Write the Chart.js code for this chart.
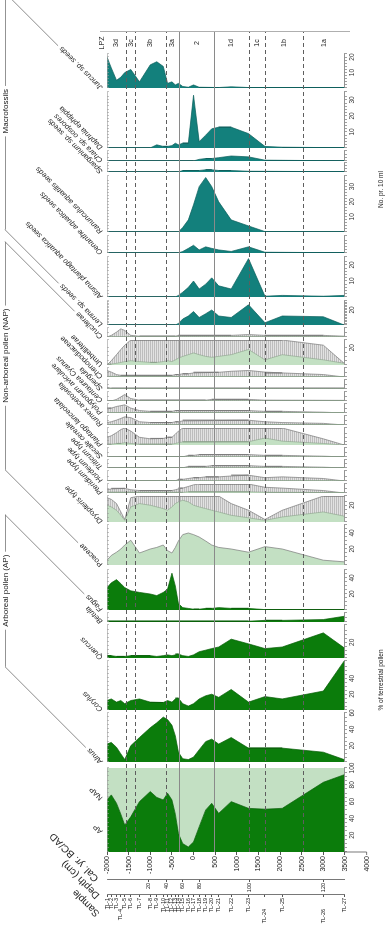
<!DOCTYPE html>
<html>
<head>
<meta charset="utf-8">
<title>Pollen and macrofossil diagram</title>
<script src="https://cdn.jsdelivr.net/npm/chart.js@4.4.1/dist/chart.umd.min.js"></script>
<style>
  html, body { margin: 0; padding: 0; background: #fff; overflow: hidden; }
  body { width: 387px; height: 928px; position: relative; }
  /* the diagram is drawn lying down, then turned a quarter turn */
  #turn { position: absolute; left: 0; top: 0; width: 928px; height: 387px;
          transform-origin: 0 0; transform: translateY(928px) rotate(-90deg); }
</style>
</head>
<body>
<div id="turn"><canvas id="diagram" width="928" height="387"></canvas></div>
<script>
// Sample ages (cal. yr BC/AD), one entry per sample
const sampleAges = [-2000, -1900, -1780, -1680, -1590, -1450, -1250, -1000, -850, -700, -600, -500, -420, -350,
                    -250, -120, 0, 130, 280, 420, 580, 870, 1270, 1650, 2050, 3000, 3480];
const sampleNames = ['TL-1', 'TL-2', 'TL-3', 'TL-4', 'TL-5', 'TL-6', 'TL-7', 'TL-8', 'TL-9', 'TL-10', 'TL-11',
                     'TL-12', 'TL-13', 'TL-14', 'TL-15', 'TL-16', 'TL-17', 'TL-18', 'TL-19', 'TL-20', 'TL-21',
                     'TL-22', 'TL-23', 'TL-24', 'TL-25', 'TL-26', 'TL-27'];
const depthLabels = ['20', '40', '60', '80', '100', '120'];
const depthAges = [-1050, -620, -250, 130, 1300, 3000];
const ageTicks = [-2000, -1500, -1000, -500, 0, 500, 1000, 1500, 2000, 2500, 3000, 3500, 4000];

// Local pollen assemblage zones
const zoneBounds = [-1560, -1350, -640, -330, 470, 1280, 1650, 2530];
const majorBounds = [-330, 470];
const zoneNames = ['3d', '3c', '3b', '3a', '2', '1d', '1c', '1b', '1a'];

// Macrofossils (no. per 10 ml)
const juncus = [20, 13, 5, 7, 10, 12, 4, 15, 17, 14, 3, 4, 2, 3, 1, 0.5, 2, 0.5, 0.2, 0.2, 0.5, 0.8, 0.3, 0.3, 0.5, 0.2, 0];
const daphnia = [0, 0, 0, 0, 0, 0, 0, 0.5, 2, 1, 1, 1.5, 3, 2, 3, 3, 33, 4, 8, 12, 13, 13, 9, 1, 0.5, 0.3, 0];
const chara = [0, 0, 0, 0, 0, 0, 0, 0, 0, 0, 0, 0, 0, 0, 0, 0, 0.5, 1, 1.5, 1.5, 2, 3, 2.5, 0.5, 0, 0.3, 0];
const sparganium = [0, 0, 0, 0, 0, 0, 0, 0, 0, 0, 0, 0, 0, 0.5, 1, 1, 1, 1, 1.5, 1.5, 1, 1, 0.5, 0.3, 0.3, 0.2, 0];
const ranunculus = [0, 0, 0, 0, 0, 0, 0, 0, 0, 0, 0, 0, 0, 0.5, 3, 8, 18, 30, 36, 30, 20, 8, 4, 0.3, 0.2, 0, 0];
const oenanthe = [0, 0, 0, 0, 0, 0, 0, 0, 0, 0, 0, 0, 0, 0.5, 1, 3, 5, 2, 4, 3, 2, 1, 4, 0.5, 0.3, 0.2, 0];
const alisma = [0, 0, 0, 0, 0, 0, 0, 0, 0, 0, 0, 0, 0, 1, 3, 6, 10, 5, 8, 12, 7, 5, 24, 0.5, 1, 0.5, 1];
const lemna = [0, 0, 0, 0, 0, 0, 0, 0, 0, 0, 0, 0, 0, 2, 8, 12, 18, 10, 15, 20, 12, 10, 27, 3, 12, 11, 0];

// Pollen (% of terrestrial pollen); "Exag" series are the grey exaggerated curves
const ap = [62, 68, 58, 45, 32, 42, 60, 72, 65, 62, 70, 62, 45, 22, 10, 6, 12, 30, 50, 58, 46, 60, 52, 51, 52, 83, 92];
const alnus = [22, 24, 18, 10, 3, 20, 30, 42, 48, 55, 52, 45, 32, 12, 4, 3, 6, 15, 25, 28, 22, 30, 17, 17, 17, 12, 3];
const corylus = [12, 14, 10, 12, 8, 12, 14, 10, 9, 10, 12, 10, 14, 15, 8, 5, 8, 14, 18, 20, 16, 26, 10, 17, 14, 24, 62];
const quercus = [3, 3, 2, 2, 2, 3, 3, 3, 2, 3, 4, 3, 4, 5, 3, 2, 4, 8, 10, 12, 14, 24, 18, 12, 14, 32, 13];
const betula = [1, 1, 1, 1, 1, 1, 1, 1, 1, 1, 1, 1, 1, 1, 1, 1, 1, 1, 1, 1, 1, 1, 1, 2, 2, 3, 7];
const fagus = [28, 34, 38, 33, 28, 24, 22, 20, 18, 22, 26, 46, 30, 8, 3, 2, 1, 1, 2, 2, 3, 2, 2, 0.5, 0.3, 0.2, 0.2];
const poaceae = [6, 12, 16, 20, 25, 31, 15, 20, 22, 25, 18, 15, 22, 30, 38, 40, 38, 35, 30, 25, 22, 20, 16, 23, 20, 6, 4];
const dryopteris = [20, 18, 14, 8, 2, 18, 22, 20, 18, 16, 14, 18, 22, 24, 26, 24, 20, 18, 16, 14, 12, 8, 5, 2, 6, 12, 7];
const dryopterisExag = [29, 27, 22, 12, 3, 29, 31, 31, 31, 31, 31, 31, 31, 31, 31, 31, 31, 31, 31, 31, 31, 22, 14, 3, 14, 31, 31];
const pteridium = [1, 1, 1, 1, 1, 1, 0.5, 0.5, 0.5, 0.5, 0.5, 0.5, 0.5, 1, 1, 1.5, 1.5, 1.5, 1.5, 1.5, 1.5, 1.5, 1.5, 1, 1, 0.5, 0];
const pteridiumExag = [4, 5, 6, 6, 5, 4, 3, 3, 3, 3, 3, 3, 4, 5, 6, 8, 10, 11, 11, 11, 11, 11, 11, 7, 6, 3, 0];
const hordeum = [0, 0, 0, 0, 0, 0, 0, 0, 0, 0, 0, 0, 0, 0.2, 0.2, 0.3, 0.4, 0.4, 0.5, 0.5, 0.5, 0.6, 0.8, 0.4, 0.5, 0.3, 0];
const hordeumExag = [0, 0, 0, 0, 0, 0, 0, 0, 0, 0, 0, 0, 1, 2, 2, 3, 4, 4, 5, 5, 5, 6, 7, 4, 5, 3, 0];
const triticum = [0, 0, 0, 0, 0, 0, 0, 0, 0, 0, 0, 0, 0, 0.1, 0.1, 0.2, 0.2, 0.2, 0.2, 0.3, 0.3, 0.3, 0.3, 0.2, 0.2, 0.1, 0];
const triticumExag = [0, 0, 0, 0, 0, 0, 0, 0, 0, 0, 0, 0, 0, 1, 1, 2, 2, 2, 2, 3, 3, 3, 3, 2, 2, 1, 0];
const secale = [0, 0, 0, 0, 0, 0, 0, 0, 0, 0, 0, 0, 0, 0.1, 0.1, 0.2, 0.2, 0.3, 0.3, 0.3, 0.3, 0.3, 0.3, 0.2, 0.2, 0.1, 0];
const secaleExag = [0, 0, 0, 0, 0, 0, 0, 0, 0, 0, 0, 0, 0, 1, 1, 2, 2, 3, 3, 3, 3, 3, 3, 2, 2, 1, 0];
const plantago = [1, 1, 2, 2, 3, 2, 1, 1, 1, 1, 1, 1, 2, 3, 4, 5, 5, 4, 4, 4, 4, 4, 4, 9, 5, 2, 0];
const plantagoExag = [10, 12, 16, 20, 22, 18, 10, 8, 8, 9, 10, 10, 14, 18, 22, 22, 22, 22, 22, 22, 22, 22, 22, 22, 22, 8, 0];
const rumex = [0.3, 0.4, 0.6, 0.8, 1, 0.9, 0.4, 0.3, 0.3, 0.3, 0.3, 0.3, 0.4, 0.4, 0.5, 0.6, 0.6, 0.6, 0.6, 0.6, 0.6, 0.6, 0.5, 0.4, 0.3, 0.2, 0];
const rumexExag = [3, 4, 6, 8, 10, 9, 4, 3, 3, 3, 3, 3, 4, 4, 5, 6, 6, 6, 6, 6, 6, 6, 5, 4, 3, 2, 0];
const polygonum = [0.5, 0.6, 0.8, 0.9, 1, 0.6, 0.3, 0.2, 0.2, 0.2, 0.2, 0.2, 0.3, 0.3, 0.3, 0.3, 0.3, 0.3, 0.3, 0.3, 0.3, 0.3, 0.3, 0.2, 0.2, 0.1, 0];
const polygonumExag = [5, 6, 8, 9, 10, 6, 3, 2, 2, 2, 2, 2, 3, 3, 3, 3, 3, 3, 3, 3, 3, 3, 3, 2, 2, 1, 0];
const centaurea = [0, 0, 0.2, 0.5, 0.8, 0.3, 0.1, 0.1, 0.1, 0.1, 0.1, 0.1, 0.1, 0.1, 0.1, 0.1, 0.1, 0.1, 0.1, 0.2, 0.2, 0.2, 0.2, 0.1, 0.1, 0.1, 0];
const centaureaExag = [0, 0, 2, 5, 8, 3, 1, 1, 1, 1, 1, 1, 1, 1, 1, 1, 1, 1, 1, 2, 2, 2, 2, 1, 1, 1, 0];
const spergula = [0.2, 0.1, 0.1, 0.1, 0.1, 0.1, 0.1, 0.1, 0.1, 0.1, 0.1, 0.1, 0.1, 0.1, 0.1, 0.1, 0.1, 0.1, 0.1, 0.1, 0.1, 0.1, 0.1, 0.1, 0.1, 0.1, 0];
const spergulaExag = [2, 1, 1, 1, 1, 1, 1, 1, 1, 1, 1, 1, 1, 1, 1, 1, 1, 1, 1, 1, 1, 1, 1, 1, 1, 1, 0];
const chenopodiaceae = [0.8, 0.6, 0.3, 0.2, 0.2, 0.2, 0.2, 0.2, 0.2, 0.2, 0.2, 0.2, 0.3, 0.3, 0.4, 0.4, 0.5, 0.5, 0.6, 0.6, 0.6, 0.7, 0.8, 0.6, 0.5, 0.3, 0];
const chenopodiaceaeExag = [8, 6, 3, 2, 2, 2, 2, 2, 2, 2, 2, 2, 3, 3, 4, 4, 5, 5, 6, 6, 6, 7, 8, 6, 5, 3, 0];
const umbelliferae = [0, 1, 2, 3, 4, 5, 4, 3, 3, 4, 5, 4, 6, 8, 10, 12, 14, 12, 10, 9, 10, 12, 18, 6, 12, 6, 2];
const umbelliferaeExag = [0, 5, 12, 18, 23, 29, 29, 29, 29, 29, 29, 29, 29, 29, 29, 29, 29, 29, 29, 29, 29, 29, 29, 29, 29, 23, 2];
const cruciferae = [0, 0.2, 0.6, 1, 0.8, 0.2, 0.1, 0.1, 0.1, 0.1, 0.1, 0.1, 0.1, 0.2, 0.2, 0.2, 0.2, 0.2, 0.2, 0.2, 0.2, 0.2, 0.3, 0.2, 0.2, 0.2, 0.1];
const cruciferaeExag = [0, 2, 6, 10, 8, 2, 1, 1, 1, 1, 1, 1, 1, 2, 2, 2, 2, 2, 2, 2, 2, 2, 3, 2, 2, 2, 1];

// colours
const TEAL = '#13807c';
const TEAL_LINE = '#0c5f5c';
const DARK_GREEN = '#0b7c0b';
const DARK_GREEN_LINE = '#075d07';
const LIGHT_GREEN = '#c3e0c3';
const LIGHT_GREEN_LINE = '#8a9f8a';
const GREY_LINE = '#7a7a7a';

// layout of the lying-down drawing (pixels)
const AXIS_H = 20;
const LPZ_W = 22;
const BRACKET_Y = 5;
const staggered = ['TL-4', 'TL-24', 'TL-26'];

Chart.defaults.font.family = "'Liberation Sans', Arial, sans-serif";
Chart.defaults.color = '#222';

// grey striped fill for the exaggerated curves
const canvas = document.getElementById('diagram');
const tile = document.createElement('canvas');
tile.width = 4; tile.height = 2;
const tctx = tile.getContext('2d');
tctx.fillStyle = '#e2e2e2'; tctx.fillRect(0, 0, 4, 2);
tctx.fillStyle = '#bdbdbd'; tctx.fillRect(0, 0, 4, 1);
const hatch = canvas.getContext('2d').createPattern(tile, 'repeat');

// panels from left to right (w = width, gap = space before it)
const panels = [
  { id: 'apnap', w: 84, gap: 0, max: 100, step: 5, every: 20, kind: 'apnap', data: ap },
  { id: 'alnus', label: 'Alnus', w: 49, gap: 6, max: 60, step: 5, every: 20, kind: 'tree', data: alnus },
  { id: 'corylus', label: 'Corylus', w: 49, gap: 3, max: 62, step: 5, every: 20, kind: 'tree', data: corylus },
  { id: 'quercus', label: 'Quercus', w: 33, gap: 3, max: 42, step: 5, every: 20, kind: 'tree', data: quercus },
  { id: 'betula', label: 'Betula', w: 9, gap: 3, max: 11, step: 5, every: 0, kind: 'tree', data: betula },
  { id: 'fagus', label: 'Fagus', w: 40, gap: 3, max: 50, step: 5, every: 20, kind: 'tree', data: fagus },
  { id: 'poaceae', label: 'Poaceae', upright: true, w: 40, gap: 5, max: 50, step: 5, every: 20, kind: 'herb', data: poaceae },
  { id: 'dryopteris', label: 'Dryopteris type', w: 26, gap: 3, max: 31, step: 5, every: 20, kind: 'nap', data: dryopteris, exag: dryopterisExag },
  { id: 'pteridium', label: 'Pteridium type', w: 9, gap: 3, max: 11, step: 5, every: 0, kind: 'nap', data: pteridium, exag: pteridiumExag },
  { id: 'hordeum', label: 'Hordeum type', w: 10, gap: 3, max: 12, step: 5, every: 0, kind: 'nap', data: hordeum, exag: hordeumExag },
  { id: 'triticum', label: 'Triticum type', w: 8, gap: 3, max: 10, step: 5, every: 0, kind: 'nap', data: triticum, exag: triticumExag },
  { id: 'secale', label: 'Secale cereale', w: 9, gap: 3, max: 11, step: 5, every: 0, kind: 'nap', data: secale, exag: secaleExag },
  { id: 'plantago', label: 'Plantago lanceolata', w: 17, gap: 3, max: 22, step: 5, every: 20, kind: 'nap', data: plantago, exag: plantagoExag },
  { id: 'rumex', label: 'Rumex acetosella', w: 9, gap: 3, max: 11, step: 5, every: 0, kind: 'nap', data: rumex, exag: rumexExag },
  { id: 'polygonum', label: 'Polygonum aviculare', w: 9, gap: 3, max: 11, step: 5, every: 0, kind: 'nap', data: polygonum, exag: polygonumExag },
  { id: 'centaurea', label: 'Centaurea Cyanus', w: 9, gap: 3, max: 11, step: 5, every: 0, kind: 'nap', data: centaurea, exag: centaureaExag },
  { id: 'spergula', label: 'Spergula', w: 9, gap: 3, max: 11, step: 5, every: 0, kind: 'nap', data: spergula, exag: spergulaExag },
  { id: 'cheno', label: 'Chenopodiaceae', upright: true, w: 9, gap: 3, max: 11, step: 5, every: 0, kind: 'nap', data: chenopodiaceae, exag: chenopodiaceaeExag },
  { id: 'umbel', label: 'Umbelliferae', upright: true, w: 25, gap: 3, max: 29, step: 5, every: 20, kind: 'nap', data: umbelliferae, exag: umbelliferaeExag },
  { id: 'cruci', label: 'Cruciferae', upright: true, w: 9, gap: 3, max: 11, step: 5, every: 0, kind: 'nap', data: cruciferae, exag: cruciferaeExag },
  { id: 'lemna', label: 'Lemna sp. seeds', w: 24, gap: 3, max: 32, step: 2, every: 20, kind: 'macro', data: lemna },
  { id: 'alisma', label: 'Alisma plantago aquatica seeds', w: 40, gap: 4, max: 25, step: 2, every: 10, kind: 'macro', data: alisma },
  { id: 'oenanthe', label: 'Oenanthe aquatica seeds', w: 17, gap: 4, max: 11, step: 2, every: 10, kind: 'macro', data: oenanthe },
  { id: 'ranunculus', label: 'Ranunculus aquatilis seeds', w: 56, gap: 4, max: 37, step: 2, every: 10, kind: 'macro', data: ranunculus },
  { id: 'sparganium', label: 'Sparganium sp. seeds', w: 9, gap: 4, max: 6, step: 2, every: 0, kind: 'macro', data: sparganium },
  { id: 'chara', label: 'Chara sp. oospores', w: 10, gap: 2, max: 6, step: 2, every: 0, kind: 'macro', data: chara },
  { id: 'daphnia', label: 'Daphnia ephippia', w: 56, gap: 3, max: 35, step: 2, every: 10, kind: 'macro', data: daphnia },
  { id: 'juncus', label: 'Juncus sp. seeds', w: 34, gap: 4, max: 22, step: 2, every: 10, kind: 'macro', data: juncus }
];

const groups = [
  { label: 'Arboreal pollen (AP)', from: 'alnus', to: 'fagus' },
  { label: 'Non-arboreal pollen (NAP)', from: 'poaceae', to: 'cruci' },
  { label: 'Macrofossils', from: 'lemna', to: 'juncus' }
];

function toPoints(values) {
  return values.map((v, i) => ({ x: v, y: sampleAges[i] }));
}

function leftAxis(weight, width, extra) {
  return Object.assign({
    type: 'linear', position: 'left', weight, min: -2000, max: 3500, reverse: true,
    afterFit: s => { s.width = width; },
    grid: { drawOnChartArea: false, tickLength: 2, tickColor: '#555' },
    border: { color: '#555', width: 0.8 }
  }, extra);
}

// scales: the age axis and its two companions, then one value axis per panel
const scales = {
  y: leftAxis(0, 28, {
    ticks: { stepSize: 500, autoSkip: false, padding: 1, font: { size: 7 }, callback: v => String(v) },
    grid: { drawOnChartArea: false, tickLength: 3, tickColor: '#555' }
  }),
  yDepth: leftAxis(1, 15, {
    afterBuildTicks: s => { s.ticks = depthAges.map(v => ({ value: v })); },
    ticks: { autoSkip: false, padding: 1, font: { size: 5.5 }, callback: (v, i) => depthLabels[i] }
  }),
  ySample: leftAxis(2, 33, {
    afterBuildTicks: s => { s.ticks = sampleAges.map(v => ({ value: v })); },
    ticks: {
      autoSkip: false, padding: 1, font: { size: 5.5 },
      callback: (v, i) => staggered.includes(sampleNames[i]) ? sampleNames[i] + '\u2003\u2003' : sampleNames[i]
    }
  })
};

panels.forEach((p, i) => {
  if (p.gap) {
    scales['gap' + i] = {
      type: 'linear', axis: 'x', position: 'bottom', stack: 'panels', stackWeight: p.gap, min: 0, max: 1,
      grid: { display: false }, border: { display: false }, ticks: { display: false },
      afterFit: s => { s.height = AXIS_H; }
    };
  }
  scales['x_' + p.id] = {
    type: 'linear', axis: 'x', position: 'bottom', stack: 'panels', stackWeight: p.w, min: 0, max: p.max,
    afterFit: s => { s.height = AXIS_H; },
    border: { display: true, color: '#777', width: 0.8 },
    grid: {
      drawOnChartArea: true, lineWidth: 0.8, tickLength: 2, tickColor: '#888',
      color: c => (c.tick && c.tick.value === 0) ? '#5a5a5a' : 'rgba(0,0,0,0)'
    },
    ticks: {
      stepSize: p.step, autoSkip: false, minRotation: 0, maxRotation: 0, padding: 1, color: '#333',
      font: { size: 6.5 },
      callback: v => (p.every && v > 0 && v % p.every === 0) ? String(v) : ''
    }
  };
});

// datasets: earlier entries are painted on top
const datasets = [];
panels.forEach(p => {
  const base = { xAxisID: 'x_' + p.id, yAxisID: 'y', pointRadius: 0, borderWidth: 0.7, tension: 0, fill: 'origin' };
  if (p.kind === 'apnap') {
    datasets.push({ ...base, label: 'AP', data: toPoints(p.data), backgroundColor: DARK_GREEN, borderColor: DARK_GREEN_LINE });
    datasets.push({ ...base, label: 'NAP', data: toPoints(p.data), backgroundColor: LIGHT_GREEN, borderColor: 'rgba(0,0,0,0)', fill: { value: 100 } });
  } else if (p.kind === 'tree') {
    datasets.push({ ...base, label: p.label, data: toPoints(p.data), backgroundColor: DARK_GREEN, borderColor: DARK_GREEN_LINE });
  } else if (p.kind === 'herb') {
    datasets.push({ ...base, label: p.label, data: toPoints(p.data), backgroundColor: LIGHT_GREEN, borderColor: GREY_LINE });
  } else if (p.kind === 'nap') {
    datasets.push({ ...base, label: p.label, data: toPoints(p.data), backgroundColor: LIGHT_GREEN, borderColor: LIGHT_GREEN_LINE, borderWidth: 0.6 });
    datasets.push({ ...base, label: p.label + ' x10', data: toPoints(p.exag), backgroundColor: hatch, borderColor: GREY_LINE });
  } else {
    datasets.push({ ...base, label: p.label, data: toPoints(p.data), backgroundColor: TEAL, borderColor: TEAL_LINE });
  }
});

function labelFont(p) {
  return (p.upright ? '' : 'italic ') + '7.5px "Liberation Sans", Arial, sans-serif';
}

const decorations = {
  id: 'decorations',
  afterDatasetsDraw(chart) {
    const { ctx, chartArea: area, scales: sc } = chart;
    ctx.save();
    ctx.lineWidth = 1;
    zoneBounds.forEach(b => {
      const y = Math.round(sc.y.getPixelForValue(b)) + 0.5;
      const solid = majorBounds.includes(b);
      ctx.strokeStyle = solid ? '#8a8a8a' : '#5e5e5e';
      ctx.setLineDash(solid ? [] : [4, 3]);
      ctx.beginPath();
      ctx.moveTo(area.left, y);
      ctx.lineTo(area.right + LPZ_W, y);
      ctx.stroke();
    });
    ctx.restore();
  },
  afterDraw(chart) {
    const { ctx, chartArea: area, scales: sc } = chart;
    const age = sc.y;
    const c = Math.SQRT1_2;
    ctx.save();

    // thin top edge of every panel
    ctx.strokeStyle = '#9a9a9a';
    ctx.lineWidth = 0.6;
    panels.forEach(p => {
      const s = sc['x_' + p.id];
      ctx.beginPath();
      ctx.moveTo(s.left, area.top + 0.5);
      ctx.lineTo(s.right, area.top + 0.5);
      s.ticks.forEach(t => {
        const x = Math.round(s.getPixelForValue(t.value)) + 0.5;
        ctx.moveTo(x, area.top);
        ctx.lineTo(x, area.top + 2);
      });
      ctx.stroke();
    });

    // age axis runs on to 4000
    const yEnd = age.getPixelForValue(3500);
    const y4000 = age.getPixelForValue(ageTicks[ageTicks.length - 1]);
    ctx.strokeStyle = '#555';
    ctx.lineWidth = 0.8;
    ctx.beginPath();
    ctx.moveTo(age.right, yEnd);
    ctx.lineTo(age.right, y4000);
    ctx.moveTo(age.right, y4000);
    ctx.lineTo(age.right - 3, y4000);
    ctx.stroke();
    ctx.fillStyle = '#222';
    ctx.font = '7px "Liberation Sans", Arial, sans-serif';
    ctx.textAlign = 'right';
    ctx.textBaseline = 'middle';
    ctx.fillText(String(ageTicks[ageTicks.length - 1]), age.right - 4, y4000);

    // zone column
    const zx = area.right + LPZ_W;
    ctx.strokeStyle = '#9a9a9a';
    ctx.lineWidth = 0.8;
    ctx.beginPath();
    ctx.moveTo(zx + 0.5, area.top - 7);
    ctx.lineTo(zx + 0.5, area.bottom + 5);
    ctx.stroke();
    ctx.textAlign = 'center';
    ctx.textBaseline = 'bottom';
    ctx.fillText('LPZ', area.right + LPZ_W / 2, area.top - 1);
    ctx.textBaseline = 'middle';
    const edges = [-2000, ...zoneBounds, 3500];
    zoneNames.forEach((z, i) => {
      const y = (age.getPixelForValue(edges[i]) + age.getPixelForValue(edges[i + 1])) / 2;
      ctx.fillText(z, area.right + LPZ_W / 2, y);
    });

    // slanted taxon names
    ctx.textAlign = 'left';
    ctx.textBaseline = 'alphabetic';
    const y0 = area.top - 4;
    const slanted = (text, x, font) => {
      ctx.save();
      ctx.translate(x, y0);
      ctx.rotate(-Math.PI / 4);
      ctx.font = font;
      ctx.fillText(text, 0, 0);
      ctx.restore();
    };
    panels.forEach(p => {
      const s = sc['x_' + p.id];
      if (p.kind === 'apnap') {
        slanted('AP', s.getPixelForValue(25), '7.5px "Liberation Sans", Arial, sans-serif');
        slanted('NAP', s.getPixelForValue(65), '7.5px "Liberation Sans", Arial, sans-serif');
      } else {
        slanted(p.label, s.left + 1, labelFont(p));
      }
    });

    // group brackets: slanted leads from the names up to a horizontal bar
    const h = 2.6;
    const reach = (y0 - BRACKET_Y) / c - h;
    const topX = s => s.left + 1 + (reach - h) * c;
    ctx.strokeStyle = '#777';
    ctx.lineWidth = 0.8;
    groups.forEach(g => {
      const ends = [g.from, g.to].map(id => {
        const p = panels.find(q => q.id === id);
        const s = sc['x_' + id];
        ctx.font = labelFont(p);
        const L = ctx.measureText(p.label).width + 3;
        ctx.save();
        ctx.translate(s.left + 1, y0);
        ctx.rotate(-Math.PI / 4);
        ctx.beginPath();
        ctx.moveTo(L, -h);
        ctx.lineTo(reach, -h);
        ctx.stroke();
        ctx.restore();
        return topX(s);
      });
      ctx.font = '8px "Liberation Sans", Arial, sans-serif';
      const mid = (ends[0] + ends[1]) / 2;
      const half = ctx.measureText(g.label).width / 2 + 3;
      ctx.beginPath();
      ctx.moveTo(ends[0], BRACKET_Y + 0.5);
      ctx.lineTo(mid - half, BRACKET_Y + 0.5);
      ctx.moveTo(mid + half, BRACKET_Y + 0.5);
      ctx.lineTo(ends[1], BRACKET_Y + 0.5);
      ctx.stroke();
      ctx.textAlign = 'center';
      ctx.textBaseline = 'middle';
      ctx.fillText(g.label, mid, BRACKET_Y + 1);
    });

    // titles of the three left axes
    ctx.textAlign = 'left';
    ctx.textBaseline = 'alphabetic';
    const axisTitle = (text, x, y) => {
      ctx.save();
      ctx.translate(x, y);
      ctx.rotate(-Math.PI / 4);
      ctx.font = '10px "Liberation Sans", Arial, sans-serif';
      ctx.fillText(text, 0, 0);
      ctx.restore();
    };
    axisTitle('Cal. yr. BC/AD', sc.y.left + 2, area.top - 8);
    axisTitle('Depth (cm)', sc.yDepth.left, area.top - 7);
    axisTitle('Sample', sc.ySample.left + 15, area.top - 7);

    // units under the panels
    ctx.font = '6.5px "Liberation Sans", Arial, sans-serif';
    ctx.textAlign = 'center';
    ctx.textBaseline = 'middle';
    ctx.fillText('% of terrestrial pollen', 248, area.bottom + AXIS_H + 16);
    ctx.fillText('No. pr. 10 ml', (sc.x_lemna.left + sc.x_juncus.right) / 2, area.bottom + AXIS_H + 16);
    ctx.restore();
  }
};

new Chart(canvas, {
  type: 'line',
  data: { datasets },
  options: {
    responsive: false,
    animation: false,
    devicePixelRatio: 1,
    indexAxis: 'y',
    layout: { padding: { top: 107, right: 54, bottom: 22, left: 0 } },
    plugins: { legend: { display: false }, tooltip: { enabled: false } },
    scales
  },
  plugins: [decorations]
});
</script>
</body>
</html>
